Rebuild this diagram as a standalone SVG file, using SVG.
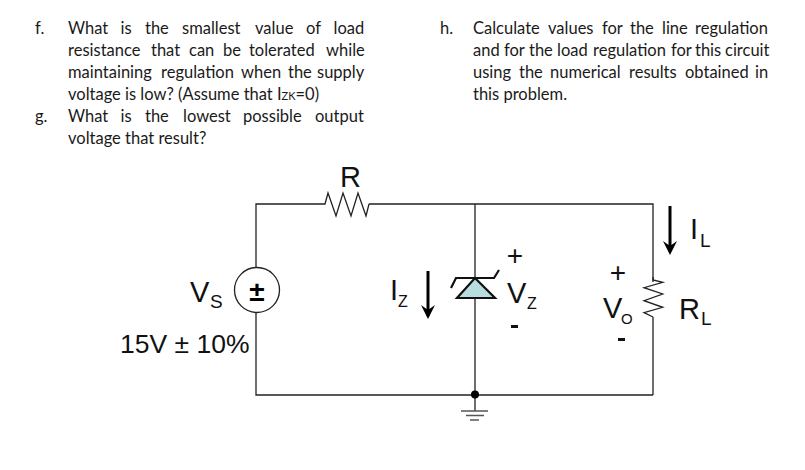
<svg xmlns="http://www.w3.org/2000/svg" width="805" height="470" viewBox="0 0 805 470">
<style>
.q{font-family:Lato,"Carlito","Noto Sans",sans-serif;font-size:16.500px;fill:#1a1a1a}
.c{font-family:"Liberation Sans",Arial,sans-serif;font-size:29px;fill:#111}
.s{font-family:"Liberation Sans",Arial,sans-serif;font-size:19px;fill:#111}
.m{font-family:"Liberation Sans",Arial,sans-serif;font-size:16px;fill:#111}
.p{font-family:"Liberation Sans",Arial,sans-serif;font-size:28px;fill:#111;text-anchor:middle}
.w{fill:none;stroke:#222;stroke-width:1.3}
.a{fill:none;stroke:#000;stroke-width:3}
</style>
<rect width="805" height="470" fill="#fff"/>
<g id="question-text">
<text class="q" x="35" y="34">f.</text>
<text class="q" y="34"><tspan x="68">What</tspan><tspan x="120.500">is</tspan><tspan x="145">the</tspan><tspan x="182">smallest</tspan><tspan x="255">value</tspan><tspan x="306">of</tspan><tspan x="333.500">load</tspan></text>
<text class="q" y="56"><tspan x="68">resistance</tspan><tspan x="151">that</tspan><tspan x="189">can</tspan><tspan x="223">be</tspan><tspan x="249">tolerated</tspan><tspan x="326">while</tspan></text>
<text class="q" y="78"><tspan x="68">maintaining</tspan><tspan x="161">regulation</tspan><tspan x="241">when</tspan><tspan x="288">the</tspan><tspan x="317">supply</tspan></text>
<text class="q" x="68" y="100">voltage is low? (Assume that I<tspan font-size="11">ZK</tspan>=0)</text>
<text class="q" x="35" y="122">g.</text>
<text class="q" y="122"><tspan x="68">What</tspan><tspan x="120.500">is</tspan><tspan x="145">the</tspan><tspan x="183">lowest</tspan><tspan x="243">possible</tspan><tspan x="315">output</tspan></text>
<text class="q" x="68" y="144">voltage that result?</text>
<text class="q" x="440" y="34">h.</text>
<text class="q" y="34"><tspan x="473">Calculate</tspan><tspan x="548">values</tspan><tspan x="602">for</tspan><tspan x="630">the</tspan><tspan x="662">line</tspan><tspan x="695">regulation</tspan></text>
<text class="q" y="56"><tspan x="473">and</tspan><tspan x="504">for</tspan><tspan x="529">the</tspan><tspan x="557">load</tspan><tspan x="593">regulation</tspan><tspan x="671">for</tspan><tspan x="695">this</tspan><tspan x="725">circuit</tspan></text>
<text class="q" y="78"><tspan x="473">using</tspan><tspan x="519">the</tspan><tspan x="550">numerical</tspan><tspan x="629">results</tspan><tspan x="685">obtained</tspan><tspan x="755">in</tspan></text>
<text class="q" x="473" y="100">this problem.</text>
</g>
<g id="connectors">
<path class="w" d="M323 204H256V267.500M256 312.500V395H653M369 204H653V282M653 317V395M475 204V278M475 298V395M475 395V411"/>
</g>
<g id="resistor-R">
<path class="w" d="M323 204H325L328 193L336 216L343 193L351 216L358 193L366 216L369 204"/>
<text class="c" x="340" y="187">R</text>
</g>
<g id="source-Vs">
<circle cx="257" cy="290" r="22.500" fill="#fff" stroke="#222" stroke-width="1.3"/>
<text x="257" y="301" text-anchor="middle" font-family="Liberation Sans,Arial,sans-serif" font-weight="bold" font-size="28" fill="#000">±</text>
<text class="c" x="190" y="302">V</text><text class="s" x="210" y="308">S</text>
<text class="c" x="120" y="353" style="font-size:26.500px">15V ± 10%</text>
</g>
<g id="zener">
<path d="M475 278L495 298H457Z" fill="#b7dde0" stroke="#111" stroke-width="2.2"/>
<path d="M451 288L456 278H494L499 270" fill="none" stroke="#111" stroke-width="2.2"/>
<path class="a" d="M428 271V316"/><path d="M421 305L428 319L435 305L428 310Z" fill="#000"/>
<text class="c" x="390" y="300">I</text><text class="m" x="398" y="307">Z</text>
<text class="c" x="507" y="303">V</text><text class="m" x="527" y="309">Z</text>
<text x="515" y="265" class="p">+</text>
<rect x="511" y="325" width="7" height="3" fill="#111"/>
</g>
<g id="load">
<path class="w" d="M653 277V280L662.700 282.300L644 287.700L662.700 294L644 300.700L662.700 307.300L644 312.700L653 317"/>
<path class="a" d="M670 206V251"/><path d="M663 241L670 255L677 241L670 246Z" fill="#000"/>
<text class="c" x="690" y="239">I</text><text class="s" x="700" y="247">L</text>
<text class="c" x="679" y="319">R</text><text class="s" x="701" y="325">L</text>
<text class="c" x="603" y="318">V</text><text class="m" x="621" y="324" style="font-size:15px">O</text>
<text x="618" y="282" class="p">+</text>
<rect x="618" y="338" width="7" height="3" fill="#111"/>
</g>
<g id="ground">
<circle cx="475" cy="394.500" r="4" fill="#000"/>
<path d="M461 411H488M466 415.500H484M470 420H479" fill="none" stroke="#555" stroke-width="1.3"/>
</g>
</svg>
